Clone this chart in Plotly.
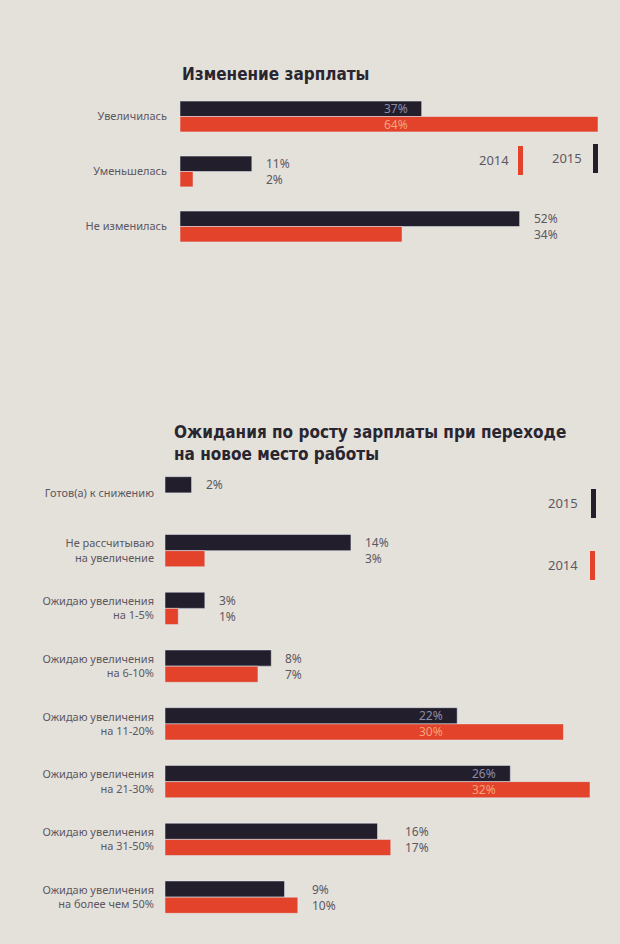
import plotly.graph_objects as go

# --- data ---
change_cats = ["Увеличилась", "Уменьшелась", "Не изменилась"]
change_2015 = [37, 11, 52]
change_2014 = [64, 2, 34]

expect_cats = [
    "Готов(а) к снижению",
    "Не рассчитываю<br>на увеличение",
    "Ожидаю увеличения<br>на 1-5%",
    "Ожидаю увеличения<br>на 6-10%",
    "Ожидаю увеличения<br>на 11-20%",
    "Ожидаю увеличения<br>на 21-30%",
    "Ожидаю увеличения<br>на 31-50%",
    "Ожидаю увеличения<br>на более чем 50%",
]
expect_2015 = [2, 14, 3, 8, 22, 26, 16, 9]
expect_2014 = [None, 3, 1, 7, 30, 32, 17, 10]

DARK = "#221e2c"
RED = "#e2432a"
BG = "#e4e1da"
GREY = "#5c5862"

fig = go.Figure()

fig.add_trace(go.Bar(y=change_cats, x=change_2015, orientation="h", marker_color=DARK,
                     xaxis="x", yaxis="y", name="2015", hoverinfo="x+y"))
fig.add_trace(go.Bar(y=change_cats, x=change_2014, orientation="h", marker_color=RED,
                     xaxis="x", yaxis="y", name="2014", hoverinfo="x+y"))
fig.add_trace(go.Bar(y=expect_cats, x=expect_2015, orientation="h", marker_color=DARK,
                     xaxis="x2", yaxis="y2", name="2015", hoverinfo="x+y"))
fig.add_trace(go.Bar(y=expect_cats, x=expect_2014, orientation="h", marker_color=RED,
                     xaxis="x2", yaxis="y2", name="2014", hoverinfo="x+y"))

# value labels
annots = []
lab_font = "Noto Sans, sans-serif"


def add_values(cats, v15, v14, xref, yref):
    for c, a, b in zip(cats, v15, v14):
        if b is not None and a >= 20 and b > a:
            # both labels sit inside, at the end of the dark bar
            annots.append(dict(x=a, y=c, xref=xref, yref=yref, text=f"{a}%", showarrow=False,
                               xanchor="right", xshift=-12, yshift=8,
                               font=dict(family=lab_font, size=12, color="#8e8ca4")))
            annots.append(dict(x=a, y=c, xref=xref, yref=yref, text=f"{b}%", showarrow=False,
                               xanchor="right", xshift=-12, yshift=-8,
                               font=dict(family=lab_font, size=12, color="#f6a27c")))
        else:
            m = max(a, b or 0)
            annots.append(dict(x=m, y=c, xref=xref, yref=yref, text=f"{a}%", showarrow=False,
                               xanchor="left", xshift=12, yshift=8,
                               font=dict(family=lab_font, size=12, color=GREY)))
            if b is not None:
                annots.append(dict(x=m, y=c, xref=xref, yref=yref, text=f"{b}%", showarrow=False,
                                   xanchor="left", xshift=12, yshift=-8,
                                   font=dict(family=lab_font, size=12, color=GREY)))


add_values(change_cats, change_2015, change_2014, "x", "y")
add_values(expect_cats, expect_2015, expect_2014, "x2", "y2")

title_font = dict(family="DejaVu Sans Condensed, Liberation Sans Narrow, sans-serif", size=17, color="#2a2630")
annots.append(dict(x=180 / 620, y=1 - 74 / 944, xref="paper", yref="paper", xanchor="left", yanchor="middle",
                   text="<b>Изменение зарплаты</b>", showarrow=False, font=title_font))
annots.append(dict(x=172 / 620, y=1 - 443 / 944, xref="paper", yref="paper", xanchor="left", yanchor="middle",
                   align="left", text="<b>Ожидания по росту зарплаты при переходе<br>на новое место работы</b>",
                   showarrow=False, font=title_font))

# hand-drawn legends
leg_font = dict(family=lab_font, size=13, color=GREY)
shapes = []
for label, color, tx, bx, ty in [("2014", RED, 511, 518, 160), ("2015", DARK, 584, 593, 158),
                                  ("2015", DARK, 580, 591, 503), ("2014", RED, 580, 590, 565)]:
    annots.append(dict(x=tx / 620, y=1 - ty / 944, xref="paper", yref="paper", xanchor="right",
                       yanchor="middle", text=label, showarrow=False, font=leg_font))
    shapes.append(dict(type="rect", xref="paper", yref="paper", x0=bx / 620, x1=(bx + 5) / 620,
                       y0=1 - (ty + 15) / 944, y1=1 - (ty - 14) / 944, fillcolor=color, line_width=0))

tick_font = dict(family=lab_font, size=11, color=GREY)
fig.update_layout(
    width=620, height=944,
    paper_bgcolor=BG, plot_bgcolor=BG,
    margin=dict(l=0, r=0, t=0, b=0),
    barmode="group", bargap=0.44, bargroupgap=0,
    showlegend=False,
    annotations=annots, shapes=shapes,
    xaxis=dict(domain=[180 / 620, 598 / 620], range=[0, 64], visible=False, anchor="y"),
    yaxis=dict(domain=[1 - 254 / 944, 1 - 89 / 944], autorange="reversed", showgrid=False,
               zeroline=False, showline=False, ticks="", ticklabelstandoff=12, tickfont=tick_font,
               anchor="x"),
    xaxis2=dict(domain=[165 / 620, 590 / 620], range=[0, 32], visible=False, anchor="y2"),
    yaxis2=dict(domain=[1 - 926 / 944, 1 - 464 / 944], autorange="reversed", showgrid=False,
                zeroline=False, showline=False, ticks="", ticklabelstandoff=10, tickfont=tick_font,
                anchor="x2"),
)

fig.write_html("out.html", config={"displayModeBar": False},
               post_script="document.body.style.margin='0';document.body.style.background='%s';" % BG)
